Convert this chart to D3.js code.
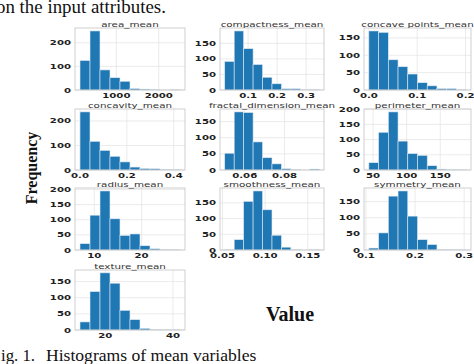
<!DOCTYPE html>
<html><head><meta charset="utf-8">
<script src="https://cdnjs.cloudflare.com/ajax/libs/d3/7.8.5/d3.min.js"></script>
<style>body{margin:0;background:#fff}svg{display:block}</style>
</head><body>
<script>
// ---- data ----
const titles = ["area_mean","compactness_mean","concave points_mean","concavity_mean","fractal_dimension_mean","perimeter_mean","radius_mean","smoothness_mean","symmetry_mean","texture_mean"];
const binStarts = [143.5, 0.01938, 0, 0, 0.04996, 43.79, 6.981, 0.05263, 0.106, 12.5];
const binWidths = [235.75, 0.03260, 0.02012, 0.04268, 0.004748, 14.471, 2.1129, 0.01108, 0.0198, 2.957];
const areaCounts        = [125, 250, 85, 52, 37, 6, 4, 1, 0, 2];
const compactnessCounts = [92, 190, 133, 82, 41, 20, 4, 4, 1, 2];
const concavePtsCounts  = [170, 166, 87, 67, 46, 21, 12, 4, 4, 2];
const concavityCounts   = [237, 117, 80, 56, 33, 12, 6, 5, 1, 2];
const fractalCounts     = [52, 180, 178, 87, 38, 19, 4, 2, 0, 3];
const perimeterCounts   = [24, 124, 191, 95, 54, 48, 14, 3, 2, 1];
const radiusCounts      = [21, 115, 195, 103, 48, 53, 14, 4, 2, 1];
const smoothnessCounts  = [1, 33, 155, 188, 128, 47, 9, 2, 0, 1];
const symmetryCounts    = [6, 53, 167, 183, 105, 32, 17, 2, 1, 1];
const textureCounts     = [25, 119, 177, 145, 61, 32, 5, 2, 1, 1];
const allCounts = [areaCounts, compactnessCounts, concavePtsCounts, concavityCounts, fractalCounts, perimeterCounts, radiusCounts, smoothnessCounts, symmetryCounts, textureCounts];
const xTickLabels = [["1000","2000"],["0.1","0.2","0.3"],["0.0","0.1","0.2"],["0.0","0.2","0.4"],["0.06","0.08"],["50","100","150"],["10","20"],["0.05","0.10","0.15"],["0.1","0.2","0.3"],["20","40"]];
const yTickLabels = [["0","100","200"],["0","50","100","150"],["0","50","100","150"],["0","100","200"],["0","50","100","150"],["0","50","100","150","200"],["0","50","100","150","200"],["0","50","100","150"],["0","50","100","150"],["0","50","100","150"]];
const topText = "on the input attributes.";
const yAxisTitle = "Frequency";
const xAxisTitle = "Value";
const captionLabel = "ig. 1.";
const captionText = "Histograms of mean variables";

// ---- layout ----
const W = 474, H = 364;
const cols = [[75,185],[220,324],[364,471]];
const rows = [[28,90],[109,170],[188,250],[270,330]];
const svg = d3.select("body").append("svg").attr("width", W).attr("height", H);

const tickFont = "DejaVu Sans";
function wideText(g, x, y, txt, anchor, size, weight, fill, sx, fam) {
  return g.append("text").attr("transform", `translate(${x},${y}) scale(${sx},1)`)
    .attr("text-anchor", anchor).attr("font-family", fam || tickFont)
    .attr("font-size", size).attr("font-weight", weight).attr("fill", fill).text(txt);
}

titles.forEach((t, k) => {
  const c = cols[k % 3], r = rows[Math.floor(k / 3)];
  const counts = allCounts[k];
  const s0 = binStarts[k], bw = binWidths[k];
  const s1 = s0 + bw * counts.length;
  const span = s1 - s0;
  const x = d3.scaleLinear().domain([s0 - 0.05 * span, s1 + 0.05 * span]).range(c);
  const y = d3.scaleLinear().domain([0, d3.max(counts) * 1.05]).range([r[1], r[0]]);
  const g = svg.append("g");
  const xt = xTickLabels[k].map(Number), yt = yTickLabels[k].map(Number);
  // grid
  g.selectAll(".gx").data(xt).enter().append("line")
    .attr("x1", d => x(d)).attr("x2", d => x(d)).attr("y1", r[0]).attr("y2", r[1])
    .attr("stroke", "#e3e3e3").attr("stroke-width", 0.7);
  g.selectAll(".gy").data(yt).enter().append("line")
    .attr("x1", c[0]).attr("x2", c[1]).attr("y1", d => y(d)).attr("y2", d => y(d))
    .attr("stroke", "#e3e3e3").attr("stroke-width", 0.7);
  // bars
  g.selectAll("rect.bar").data(counts).enter().append("rect")
    .attr("x", (d, i) => x(s0 + i * bw))
    .attr("width", (d, i) => x(s0 + (i + 1) * bw) - x(s0 + i * bw))
    .attr("y", d => y(d)).attr("height", d => y(0) - y(d))
    .attr("fill", "#1f77b4").attr("stroke", "#dfe9f3").attr("stroke-width", 0.6);
  // frame
  g.append("rect").attr("x", c[0]).attr("y", r[0]).attr("width", c[1] - c[0]).attr("height", r[1] - r[0])
    .attr("fill", "none").attr("stroke", "#c4c4c4").attr("stroke-width", 0.8);
  // tick labels
  xTickLabels[k].forEach((lab, i) => wideText(g, x(xt[i]), r[1] + 8, lab, "middle", 7, "bold", "#222", 1.45));
  yTickLabels[k].forEach((lab, i) => wideText(g, c[0] - 4, y(yt[i]) + 2.5, lab, "end", 7, "bold", "#222", 1.45));
  // title
  wideText(g, (c[0] + c[1]) / 2, r[0] - 1.5, t, "middle", 7.5, "normal", "#333", 1.38);
});

// page texts
wideText(svg, -4, 13, topText, "start", 18, "normal", "#111", 1.05, "Liberation Serif");
svg.append("text").attr("transform", "translate(37,168) rotate(-90)").attr("text-anchor", "middle")
  .attr("font-family", "Liberation Serif").attr("font-weight", "bold").attr("font-size", 16)
  .attr("fill", "#111").text(yAxisTitle);
svg.append("text").attr("x", 290).attr("y", 321).attr("text-anchor", "middle")
  .attr("font-family", "Liberation Serif").attr("font-weight", "bold").attr("font-size", 20)
  .attr("fill", "#111").text(xAxisTitle);
wideText(svg, 1, 361, captionLabel, "start", 16, "normal", "#111", 1.05, "Liberation Serif");
wideText(svg, 46, 361, captionText, "start", 16, "normal", "#111", 1.1, "Liberation Serif");
</script>
</body></html>
